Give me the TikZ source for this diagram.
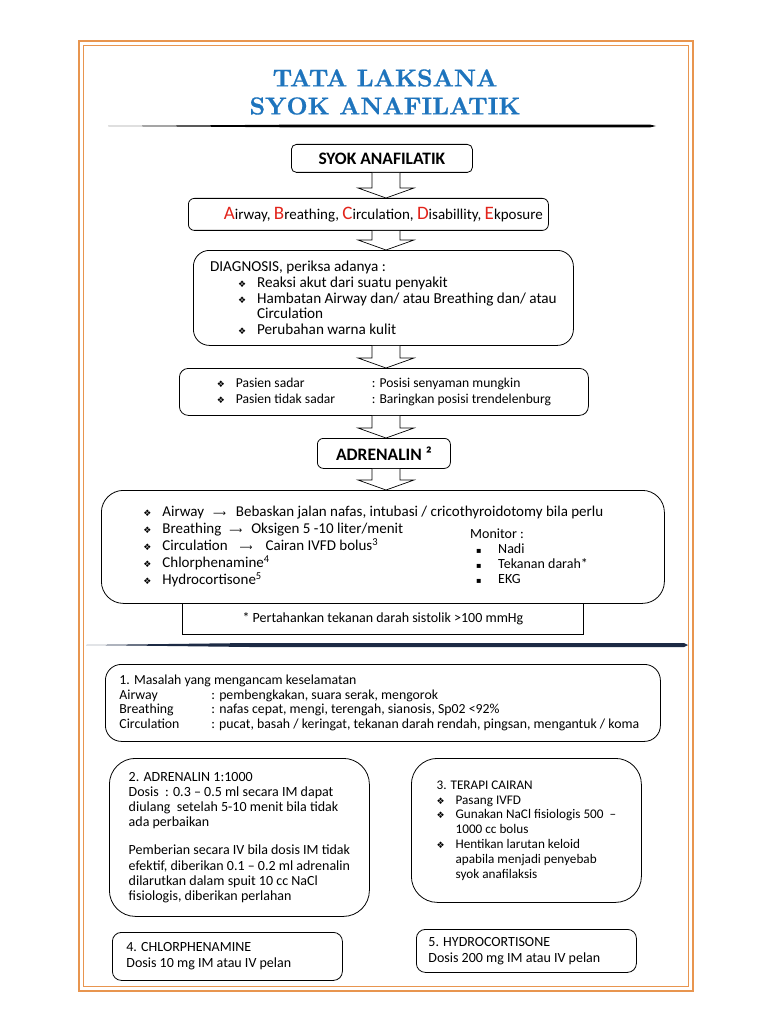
\documentclass[tikz,border=0pt]{standalone}
\usepackage{fontspec}
\setsansfont{Carlito}
\newfontfamily\symfont{DejaVu Sans}
\newfontfamily\titlefont{lmroman10-bold.otf}[FakeBold=0.6]
\usepackage{tikz}
\usetikzlibrary{positioning,calc}
\definecolor{Frame}{HTML}{E8954F}
\definecolor{TitleBlue}{HTML}{1E74BD}
\definecolor{Initial}{HTML}{E2231A}
\definecolor{RuleDark}{HTML}{1C2A44}

\newcommand{\dbul}{\makebox[19pt][l]{\symfont\fontsize{9}{9}\selectfont ❖}}
\newcommand{\sqbul}{\makebox[22pt][l]{\symfont\fontsize{8}{8}\selectfont ▪}}
\newcommand{\ini}[1]{{\color{Initial}\fontsize{19}{19}\selectfont #1}}
\newcommand{\abcarrow}{{\symfont\fontsize{9}{9}\selectfont ⟶}}

\tikzset{
	box/.style={draw=black, line width=0.8pt, fill=white, inner sep=0pt, anchor=north west, align=flush left},
	blokpanah/.style={draw=black, line width=0.7pt, fill=white}
}

\begin{document}
\begin{tikzpicture}[x=1pt, y=-1pt, font=\sffamily\fontsize{14}{15.5}\selectfont]
	\useasboundingbox (0,0) rectangle (768,1024);
	\fill[white] (0,0) rectangle (768,1024);
	
	% bingkai
	\draw[Frame, line width=1.6pt] (79,41) rectangle (693,991);
	\draw[Frame, line width=1pt] (83.5,45.5) rectangle (688.5,986.5);
	
	\node[font=\titlefont\fontsize{24.5}{28}\selectfont, text=TitleBlue, align=center] (judul) at (385,92) {TATA LAKSANA\\SYOK ANAFILATIK};
	\fill (108,126) -- (300,124.6) -- (650,124.6) -- (656,126) -- (650,127.4) -- (300,127.4) -- cycle;
	
	\coordinate (axis) at (386,0);
	
	% alur utama
	\node[box, rounded corners=5pt, minimum width=181pt, minimum height=28pt,
	font=\sffamily\bfseries\fontsize{17.5}{20}\selectfont] (syok) at (291,144) {SYOK ANAFILATIK};
	
	\node[box, rounded corners=6pt, minimum width=360pt, minimum height=32pt,
	font=\sffamily\fontsize{15}{18}\selectfont] (abcde) at (188,198)
	{\hspace*{30pt}\ini{A}irway, \ini{B}reathing, \ini{C}irculation, \ini{D}isabillity, \ini{E}kposure};
	
	\node[box, rounded corners=16pt, minimum width=380pt, minimum height=95pt,
	font=\sffamily\fontsize{15.2}{15.7}\selectfont] (diag) at (193,250) {
		DIAGNOSIS, periksa adanya :\\
		\hspace*{28pt}\dbul Reaksi akut dari suatu penyakit\\
		\hspace*{28pt}\dbul Hambatan Airway dan/ atau Breathing dan/ atau\\
		\hspace*{47pt}Circulation\\
		\hspace*{28pt}\dbul Perubahan warna kulit
	};
	
	\node[box, rounded corners=9pt, minimum width=409pt, minimum height=47pt,
	font=\sffamily\fontsize{13.6}{16}\selectfont] (pasien) at (179,368) {
		\dbul\makebox[136pt][l]{Pasien sadar}: Posisi senyaman mungkin\\
		\dbul\makebox[136pt][l]{Pasien tidak sadar}: Baringkan posisi trendelenburg
	};
	
	\node[box, rounded corners=6pt, minimum width=133pt, minimum height=30pt,
	font=\sffamily\bfseries\fontsize{17.5}{20}\selectfont] (adr) at (317,438) {ADRENALIN ²};
	
	\node[box, rounded corners=22pt, minimum width=563pt, minimum height=113pt, text width=479pt,
	inner xsep=42pt, font=\sffamily\fontsize{15}{17}\selectfont] (tindakan) at (101,490) {
		\mbox{\dbul Airway\hspace{9pt}\abcarrow\hspace{10pt}Bebaskan jalan nafas, intubasi / cricothyroidotomy bila perlu}\\
		\dbul Breathing\hspace{8pt}\abcarrow\hspace{9pt}Oksigen 5 -10 liter/menit\\
		\dbul Circulation\hspace{12pt}\abcarrow\hspace{13pt}Cairan IVFD bolus\textsuperscript{3}\\
		\dbul Chlorphenamine\textsuperscript{4}\\
		\dbul Hydrocortisone\textsuperscript{5}
	};
	\node[anchor=north west, inner sep=0pt, align=left, font=\sffamily\fontsize{14}{15}\selectfont] (monitor) at (470,529) {
		Monitor :\\
		\hspace*{6pt}\sqbul Nadi\\
		\hspace*{6pt}\sqbul Tekanan darah*\\
		\hspace*{6pt}\sqbul EKG
	};
	
	\node[box, minimum width=401pt, minimum height=31pt] (catatan) at (182,603) {* Pertahankan tekanan darah sistolik >100 mmHg};
	
	\foreach \a/\b in {syok/abcde,abcde/diag,diag/pasien,pasien/adr,adr/tindakan}
	\draw[blokpanah] ($(\a.south -| axis)+(-14,0)$) -- ($(\b.north -| axis)+(-14,-10)$)
	-- ($(\b.north -| axis)+(-28,-10)$) -- (\b.north -| axis) -- ($(\b.north -| axis)+(28,-10)$)
	-- ($(\b.north -| axis)+(14,-10)$) -- ($(\a.south -| axis)+(14,0)$);
	
	\fill[RuleDark] (86,645) -- (250,643) -- (684,643) -- (688,645) -- (684,647) -- (250,647) -- cycle;
	
	% keterangan
	\node[box, rounded corners=16pt, minimum width=555pt, minimum height=77pt, text width=527pt,
	inner xsep=14pt, font=\sffamily\fontsize{13.8}{14.7}\selectfont] (masalah) at (105,664) {
		1. Masalah yang mengancam keselamatan\\
		\makebox[92pt][l]{Airway}: pembengkakan, suara serak, mengorok\\
		\makebox[92pt][l]{Breathing}: nafas cepat, mengi, terengah, sianosis, Sp02 <92\%\\
		\mbox{\makebox[92pt][l]{Circulation}: pucat, basah / keringat, tekanan darah rendah, pingsan, mengantuk / koma}
	};
	
	\node[box, rounded corners=26pt, minimum width=260pt, minimum height=158pt,
	font=\sffamily\fontsize{14}{15.2}\selectfont] (dosisadr) at (109,758) {
		2. ADRENALIN 1:1000\\
		Dosis\ \ : 0.3 – 0.5 ml secara IM dapat\\
		diulang\ \ setelah 5-10 menit bila tidak\\
		ada perbaikan\\[13pt]
		Pemberian secara IV bila dosis IM tidak\\
		efektif, diberikan 0.1 – 0.2 ml adrenalin\\
		dilarutkan dalam spuit 10 cc NaCl\\
		fisiologis, diberikan perlahan
	};
	
	\node[box, rounded corners=26pt, minimum width=230pt, minimum height=144pt,
	font=\sffamily\fontsize{13.2}{14.8}\selectfont] (cairan) at (411,758) {
		3. TERAPI CAIRAN\\
		\dbul Pasang IVFD\\
		\dbul Gunakan NaCl fisiologis 500\ \ –\\
		\hspace*{19pt}1000 cc bolus\\
		\dbul Hentikan larutan keloid\\
		\hspace*{19pt}apabila menjadi penyebab\\
		\hspace*{19pt}syok anafilaksis
	};
	
	\node[box, rounded corners=9pt, minimum width=230pt, minimum height=48pt, text width=202pt,
	inner xsep=14pt, font=\sffamily\fontsize{14}{16}\selectfont] (ctm) at (112,932) {
		4. CHLORPHENAMINE\\
		Dosis 10 mg IM atau IV pelan
	};
	
	\node[box, rounded corners=9pt, minimum width=220pt, minimum height=43pt, text width=196pt,
	inner xsep=12pt, font=\sffamily\fontsize{14}{16}\selectfont] (hc) at (416,929) {
		5. HYDROCORTISONE\\
		Dosis 200 mg IM atau IV pelan
	};
\end{tikzpicture}
\end{document}
